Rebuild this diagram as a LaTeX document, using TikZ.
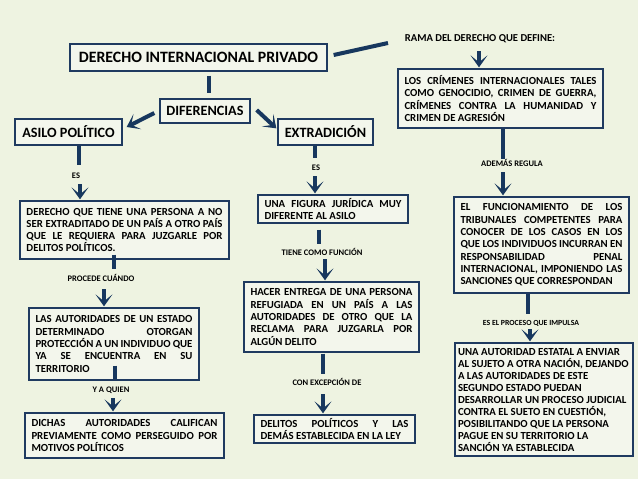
\documentclass[tikz,border=0pt]{standalone}
\usepackage{fontspec}
\setmainfont{Carlito}
\usetikzlibrary{arrows.meta}
\definecolor{bgc}{HTML}{EEF3E1}
\definecolor{boxfill}{HTML}{F3F6EC}
\definecolor{navy}{HTML}{1F3A60}
\definecolor{linec}{HTML}{17375E}
\newcommand\jl[1]{{\spaceskip=0pt\xspaceskip=0pt\makebox[\hsize][s]{#1}}}
\newcommand\oneline[1]{\mbox{#1}}
\tikzset{
 box/.style={draw=navy, line width=1.3pt, fill=boxfill, inner xsep=6.5pt, inner ysep=2pt, font=\bfseries\fontsize{10.8}{12.3}\selectfont, align=flush left},
 titlebox/.style={draw=navy, line width=1.3pt, fill=boxfill, font=\bfseries\fontsize{14.2}{16}\selectfont, inner sep=0pt},
 lbl/.style={font=\bfseries\fontsize{8.5}{10}\selectfont, inner sep=0pt},
 stub/.style={draw=linec, line width=4pt},
 arr/.style={draw=linec, line width=4pt, -{Stealth[length=12pt,width=17pt,inset=7pt]}},
}
\begin{document}
\begin{tikzpicture}[x=1pt,y=-1pt]
\fill[bgc] (0,0) rectangle (638,479);
\useasboundingbox (0,0) rectangle (638,479);

% title boxes
\node[titlebox, minimum width=257pt, minimum height=27pt, font=\bfseries\fontsize{15.8}{18}\selectfont] (dip) at (198.5,57.5) {DERECHO INTERNACIONAL PRIVADO};
\node[titlebox, minimum width=90pt, minimum height=24pt] (dif) at (205,111) {DIFERENCIAS};
\node[titlebox, minimum width=107pt, minimum height=26pt] (asilo) at (68.5,132) {ASILO POLÍTICO};
\node[titlebox, minimum width=95pt, minimum height=26pt] (extra) at (325.5,132) {EXTRADICIÓN};

% right column
\node[box, text width=192pt, minimum height=59pt] (crimes) at (500.5,98.5) {\jl{LOS CRÍMENES INTERNACIONALES TALES}\\ \jl{COMO GENOCIDIO, CRIMEN DE GUERRA,}\\ \jl{CRÍMENES CONTRA LA HUMANIDAD Y}\\ CRIMEN DE AGRESIÓN};
\node[box, text width=162pt, minimum height=96pt] (func) at (541.5,245) {\jl{EL FUNCIONAMIENTO DE LOS}\\ \jl{TRIBUNALES COMPETENTES PARA}\\ \jl{CONOCER DE LOS CASOS EN LOS}\\ \jl{QUE LOS INDIVIDUOS INCURRAN EN}\\ \jl{RESPONSABILIDAD PENAL}\\ \jl{INTERNACIONAL, IMPONIENDO LAS}\\ SANCIONES QUE CORRESPONDAN};
\node[box, inner xsep=3pt, text width=172pt, minimum height=113pt, font=\bfseries\fontsize{10.8}{12}\selectfont] (autor) at (544,399.5) {\oneline{UNA AUTORIDAD ESTATAL A ENVIAR}\\ \oneline{AL SUJETO A OTRA NACIÓN, DEJANDO}\\ \oneline{A LAS AUTORIDADES DE ESTE}\\ \oneline{SEGUNDO ESTADO PUEDAN}\\ \oneline{DESARROLLAR UN PROCESO JUDICIAL}\\ \oneline{CONTRA EL SUETO EN CUESTIÓN,}\\ \oneline{POSIBILITANDO QUE LA PERSONA}\\ \oneline{PAGUE EN SU TERRITORIO LA}\\ \oneline{SANCIÓN YA ESTABLECIDA}};

% left column
\node[box, text width=196pt, minimum height=58pt] (dtiene) at (124.5,230) {\jl{DERECHO QUE TIENE UNA PERSONA A NO}\\ \jl{SER EXTRADITADO DE UN PAÍS A OTRO PAÍS}\\ \jl{QUE LE REQUIERA PARA JUZGARLE POR}\\ DELITOS POLÍTICOS.};
\node[box, text width=157pt, minimum height=72pt] (lasaut) at (114,344) {\jl{LAS AUTORIDADES DE UN ESTADO}\\ \jl{DETERMINADO OTORGAN}\\ \jl{PROTECCIÓN A UN INDIVIDUO QUE}\\ \jl{YA SE ENCUENTRA EN SU}\\ TERRITORIO};
\node[box, text width=186pt, minimum height=45pt] (dichas) at (124.5,435.5) {\jl{DICHAS AUTORIDADES CALIFICAN}\\ \jl{PREVIAMENTE COMO PERSEGUIDO POR}\\ MOTIVOS POLÍTICOS};

% middle column
\node[box, text width=137pt, minimum height=28pt] (figura) at (333,209) {\jl{UNA FIGURA JURÍDICA MUY}\\ DIFERENTE AL ASILO};
\node[box, text width=162pt, minimum height=70pt] (hacer) at (331.5,317) {\jl{HACER ENTREGA DE UNA PERSONA}\\ \jl{REFUGIADA EN UN PAÍS A LAS}\\ \jl{AUTORIDADES DE OTRO QUE LA}\\ \jl{RECLAMA PARA JUZGARLA POR}\\ ALGÚN DELITO};
\node[box, text width=148pt, minimum height=28pt] (delitos) at (334.5,429) {\jl{DELITOS POLÍTICOS Y LAS}\\ DEMÁS ESTABLECIDA EN LA LEY};

% labels
\node[lbl, font=\bfseries\fontsize{10.6}{12}\selectfont] (rama) at (480,39) {RAMA DEL DERECHO QUE DEFINE:};
\node[lbl] (l1) at (512,163) {ADEMÁS REGULA};
\node[lbl, font=\bfseries\fontsize{7.8}{9}\selectfont] (l2) at (531,323) {ES EL PROCESO QUE IMPULSA};
\node[lbl] (l3) at (76,176) {ES};
\node[lbl] (l4) at (101,278) {PROCEDE CUÁNDO};
\node[lbl] (l5) at (111,390) {Y A QUIEN};
\node[lbl] (l6) at (316,168) {ES};
\node[lbl] (l7) at (322,252) {TIENE COMO FUNCIÓN};
\node[lbl] (l8) at (327,382) {CON EXCEPCIÓN DE};
\coordinate (ramaend) at (388,43);

% connectors
\draw[stub] ([shift={(10.5,4)}]dip.south) -- ([shift={(4,-5)}]dif.north);
\draw[stub] ([shift={(6,-2.5)}]dip.east) -- (ramaend);
\draw[arr] ([shift={(-21.5,-17)}]crimes.north) -- ([shift={(-21.5,-1)}]crimes.north);
\draw[stub] ([xshift=2.5]crimes.south) -- ++(0,30);
\draw[arr] ([shift={(-38.5,-24)}]func.north) -- ([shift={(-38.5,-1)}]func.north);
\draw[stub] ([xshift=-13.5]func.south) -- ++(0,20);
\draw[arr] ([shift={(-14,-13)}]autor.north) -- ([shift={(-14,-1)}]autor.north);

\draw[arr] ([shift={(-5,2)}]dif.west) -- ([shift={(4,-5)}]asilo.east);
\draw[arr] ([shift={(6,-1)}]dif.east) -- ([shift={(-1,10)}]extra.north west);

\draw[stub] ([xshift=10.5]asilo.south) -- ++(0,19);
\draw[arr] ([shift={(-44.5,-16)}]dtiene.north) -- ([shift={(-44.5,-1)}]dtiene.north);
\draw[stub] ([shift={(-10.5,-5)}]dtiene.south) -- ++(0,14);
\draw[arr] ([shift={(-10,-18)}]lasaut.north) -- ([shift={(-10,-1)}]lasaut.north);
\draw[stub] ([shift={(1,-15)}]lasaut.south) -- ([shift={(1,-2)}]lasaut.south);
\draw[arr] ([shift={(-11.5,-14)}]dichas.north) -- ([shift={(-11.5,-1)}]dichas.north);

\draw[stub] ([xshift=-10.5]extra.south) -- ++(0,12);
\draw[arr] ([shift={(-18,-18)}]figura.north) -- ([shift={(-18,-1)}]figura.north);
\draw[stub] ([shift={(-14,6)}]figura.south) -- ++(0,14);
\draw[arr] ([shift={(-6.5,-22)}]hacer.north) -- ([shift={(-6.5,-1)}]hacer.north);
\draw[stub] ([shift={(-8.5,1)}]hacer.south) -- ++(0,20);
\draw[arr] ([shift={(-11.5,-20)}]delitos.north) -- ([shift={(-11.5,-1)}]delitos.north);
\end{tikzpicture}
\end{document}
